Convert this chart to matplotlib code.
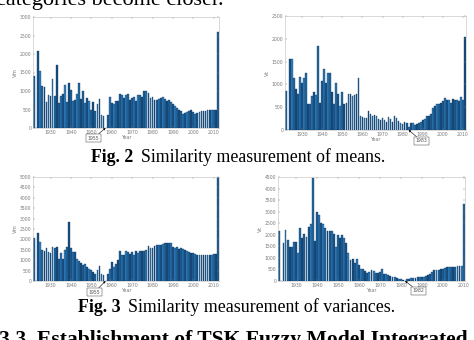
import numpy as np
import matplotlib
matplotlib.use("Agg")
import matplotlib.pyplot as plt

# ---- data: similarity values per year -------------------------------------
first_year = 1922

mean_vm = [1400, 0, 2090, 1530, 1145, 1100, 690, 880, 865, 1330, 865, 1710, 675, 865,
           920, 1150, 710, 1225, 1030, 740, 760, 920, 1210, 775, 990, 670, 800, 740,
           490, 710, 470, 650, 775, 350, 325, 0,
           360, 830, 680, 660, 740, 740, 920, 900, 800, 880, 920, 770, 800, 850, 720,
           900, 880, 850, 1000, 1000, 940, 800, 830, 760, 760, 780, 820, 850, 780, 720,
           760, 690, 640, 600, 550, 500, 450, 370, 400, 430, 450, 480, 430, 390, 400,
           430, 450, 450, 470, 490, 490, 490, 480, 480, 2600]

mean_vc = [850, 0, 1560, 1550, 1130, 900, 800, 1170, 1040, 1130, 1250, 570, 570, 750,
           840, 770, 1850, 590, 1080, 1330, 1020, 1260, 1260, 840, 560, 1020, 800, 535,
           830, 560, 590, 800, 800, 735, 770, 785, 1130, 307, 285, 270, 270, 410, 340,
           307, 320, 300, 235, 214, 257, 214, 185, 285, 250, 185, 307, 270, 200, 157,
           128, 185, 150, 57, 157, 157, 114, 128, 157, 185, 214, 250, 307, 307, 340,
           485, 520, 560, 570, 600, 630, 700, 665, 657, 590, 680, 657, 657, 640, 714,
           657, 2050]

var_vm = [2060, 0, 2300, 1870, 1500, 1455, 1580, 1390, 1340, 1630, 1580, 1650, 1040,
          1360, 1040, 1470, 1615, 2830, 1580, 1390, 1390, 1070, 945, 880, 750, 830, 670,
          560, 545, 430, 350, 510, 720, 336, 300, 0, 336, 590, 910, 670, 830, 990, 1420,
          1230, 1260, 1440, 1390, 1300, 1390, 1230, 1420, 1340, 1420, 1455, 1440, 1470,
          1680, 1580, 1580, 1680, 1710, 1710, 1745, 1775, 1825, 1825, 1825, 1825, 1630,
          1580, 1630, 1550, 1580, 1520, 1470, 1420, 1390, 1360, 1330, 1310, 1260, 1230,
          1230, 1260, 1260, 1260, 1260, 1260, 1300, 1300, 5000]

var_vc = [2150, 0, 1640, 2210, 1790, 1450, 1450, 1670, 1670, 1190, 2300, 1860, 2050,
          1890, 2330, 2450, 4470, 1710, 2990, 2840, 2520, 2450, 2300, 2150, 2150, 2150,
          2040, 1450, 2010, 1860, 2010, 1860, 1640, 1230, 910, 950, 760, 950, 690, 540,
          540, 440, 350, 370, 480, 425, 350, 350, 400, 540, 320, 300, 250, 220, 175, 175,
          130, 100, 70, 44, 15, 70, 100, 117, 130, 146, 160, 175, 190, 160, 220, 280,
          320, 400, 455, 455, 480, 510, 540, 570, 585, 600, 600, 600, 600, 630, 630, 645,
          3350]

year_ticks = [1930, 1940, 1950, 1960, 1970, 1980, 1990, 2000, 2010]

panels = [
    # values, ylabel, ymax, marked year, axes rect in pixels (l, t, r, b),
    # label-box offset from the arrow tip in pixels
    dict(v=mean_vm, ylab="Vm", ymax=3000, mark="1955", rect=(33, 17, 219, 128), off=(-12, -10)),
    dict(v=mean_vc, ylab="Vc", ymax=2500, mark="1983", rect=(285, 16, 466, 130), off=(13, -11)),
    dict(v=var_vm, ylab="Vm", ymax=5000, mark="1955", rect=(33, 177, 219, 281), off=(-11, -11)),
    dict(v=var_vc, ylab="Vc", ymax=4500, mark="1982", rect=(278, 177, 465, 281), off=(13, -10)),
]

W, H = 474, 340
fig = plt.figure(figsize=(W / 100, H / 100), dpi=100)
fig.patch.set_facecolor("white")

shades = ["#1f609a", "#2b74b3", "#1a5489", "#3181c0", "#22679f", "#174c7c"]
tick_grey = "#7a7a7a"


def px_rect(l, t, r, b):
    return [l / W, 1 - b / H, (r - l) / W, (b - t) / H]


for p in panels:
    vals = np.array(p["v"], dtype=float)
    years = first_year + np.arange(len(vals))
    ax = fig.add_axes(px_rect(*p["rect"]))
    cols = [shades[i % len(shades)] for i in range(len(vals))]
    ax.bar(years, np.minimum(vals, p["ymax"]), width=0.9, color=cols,
           edgecolor="#103a60", linewidth=0.25)
    ax.set_xlim(years[0] - 0.6, years[-1] + 0.6)
    ax.set_ylim(0, p["ymax"])
    ax.set_xticks(year_ticks)
    ax.set_xticklabels([str(y) for y in year_ticks])
    ax.set_yticks(np.arange(0, p["ymax"] + 1, 500))
    ax.tick_params(axis="both", labelsize=3.3, colors=tick_grey, length=1.2,
                   width=0.3, pad=1.2, direction="in", top=True, right=True)
    for s in ax.spines.values():
        s.set_color("#bdbdbd")
        s.set_linewidth(0.4)
    ax.set_xlabel("Year", fontsize=3.5, color=tick_grey, labelpad=0.5)
    ax.set_ylabel(p["ylab"], fontsize=3.8, color=tick_grey, labelpad=1.5)

    # marked year: the gap for 1955, the lowest bar otherwise
    if p["mark"] == "1955":
        x_mark = years[int(np.where(vals[20:50] == 0)[0][0]) + 20]
    else:
        x_mark = years[int(np.argmin(np.where(vals > 0, vals, np.inf)))]
    ax.annotate(p["mark"], xy=(x_mark, 0), xycoords="data",
                xytext=p["off"], textcoords="offset pixels",
                fontsize=3.3, color="#555555", ha="center", va="center",
                annotation_clip=False,
                bbox=dict(boxstyle="square,pad=0.35", fc="white", ec="#444444", lw=0.35),
                arrowprops=dict(arrowstyle="-|>", color="black", lw=0.4,
                                mutation_scale=3, shrinkA=0, shrinkB=0))

serif = ["Liberation Serif", "DejaVu Serif"]
renderer = fig.canvas.get_renderer()


def caption(x_px, y_px, bold, rest, size):
    t1 = fig.text(x_px / W, 1 - y_px / H, bold, fontsize=size, family=serif,
                  fontweight="bold", ha="left", va="baseline")
    bb = t1.get_window_extent(renderer)
    fig.text((bb.x1 + 0.6 * size) / W, 1 - y_px / H, rest, fontsize=size,
             family=serif, ha="left", va="baseline")


caption(91, 162, "Fig. 2", "Similarity measurement of means.", 12.8)
caption(78, 312, "Fig. 3", "Similarity measurement of variances.", 12.9)

# surrounding page text, clipped by the figure edges
fig.text(-4 / W, 1 - 5 / H, "categories become closer.", fontsize=16, family=serif,
         ha="left", va="baseline")
fig.text(-1 / W, 1 - 345 / H, "3.3  Establishment of TSK Fuzzy Model Integrated",
         fontsize=15.6, family=serif, fontweight="bold", ha="left", va="baseline")

fig.savefig("out.png", dpi=100, facecolor="white")
